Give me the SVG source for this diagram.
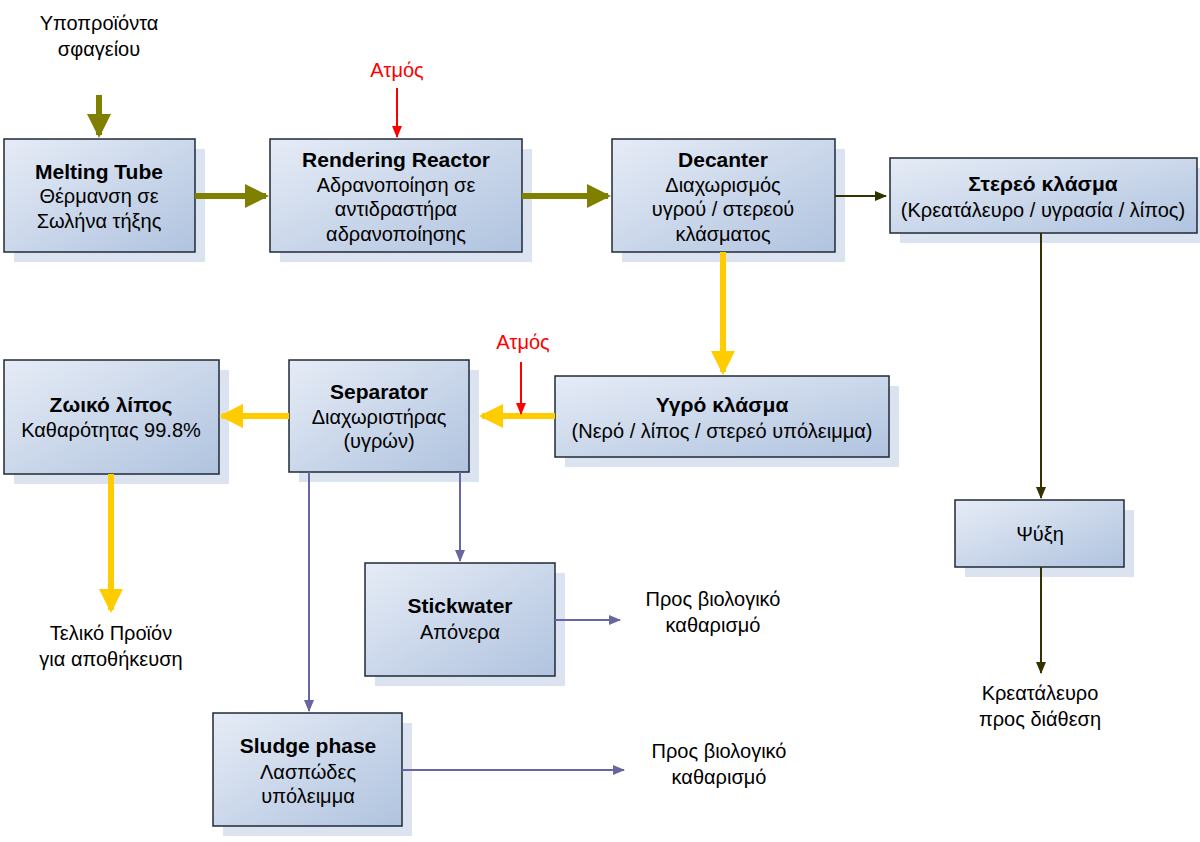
<svg xmlns="http://www.w3.org/2000/svg" width="1200" height="842" viewBox="0 0 1200 842">
<defs>
<linearGradient id="g" x1="0" y1="0" x2="1" y2="1"><stop offset="0" stop-color="#e6ecf6"/><stop offset="1" stop-color="#b0c3df"/></linearGradient>
<marker id="mo" markerWidth="4" markerHeight="4" refX="3.5" refY="2" orient="auto" markerUnits="strokeWidth"><path d="M0,0 L4,2 L0,4 z" fill="#808000"/></marker>
<marker id="my" markerWidth="4" markerHeight="4" refX="3.5" refY="2" orient="auto" markerUnits="strokeWidth"><path d="M0,0 L4,2 L0,4 z" fill="#ffcc00"/></marker>
<marker id="mr" markerWidth="12" markerHeight="10" refX="11" refY="5" orient="auto" markerUnits="userSpaceOnUse"><path d="M0,0 L12,5 L0,10 z" fill="#ff0000"/></marker>
<marker id="md" markerWidth="12" markerHeight="10" refX="11" refY="5" orient="auto" markerUnits="userSpaceOnUse"><path d="M0,0 L12,5 L0,10 z" fill="#333300"/></marker>
<marker id="ms" markerWidth="12" markerHeight="10" refX="11" refY="5" orient="auto" markerUnits="userSpaceOnUse"><path d="M0,0 L12,5 L0,10 z" fill="#6666a0"/></marker>
</defs>
<style>
.sh{fill:#dbe3f0}
.bx{fill:url(#g);stroke:#1f2a36;stroke-width:1.5}
text{font-family:"Liberation Sans",Arial,sans-serif;font-size:20px;fill:#000;text-anchor:middle}
.b{font-weight:bold;font-size:21px}
.r{fill:#ff0000}
.o{stroke:#808000;stroke-width:6;fill:none;marker-end:url(#mo)}
.y{stroke:#ffcc00;stroke-width:6;fill:none;marker-end:url(#my)}
.rd{stroke:#ff0000;stroke-width:2;fill:none;marker-end:url(#mr)}
.d{stroke:#333300;stroke-width:2;fill:none;marker-end:url(#md)}
.s{stroke:#6666a0;stroke-width:2;fill:none;marker-end:url(#ms)}
</style>
<text x="99" y="30">Υποπροϊόντα</text><text x="99" y="56">σφαγείου</text>
<text class="r" x="397" y="77">Ατμός</text>
<text class="r" x="523" y="349">Ατμός</text>
<g id="n1"><rect class="sh" x="14" y="149" width="191" height="113"/><rect class="bx" x="4" y="139" width="191" height="113"/><text class="b" x="99" y="179">Melting Tube</text><text x="99" y="203">Θέρμανση σε</text><text x="99" y="228">Σωλήνα τήξης</text></g>
<g id="n2"><rect class="sh" x="280" y="149" width="252" height="113"/><rect class="bx" x="270" y="139" width="252" height="113"/><text class="b" x="396" y="167">Rendering Reactor</text><text x="396" y="192">Αδρανοποίηση σε</text><text x="396" y="216">αντιδραστήρα</text><text x="396" y="241">αδρανοποίησης</text></g>
<g id="n3"><rect class="sh" x="622" y="149" width="223" height="113"/><rect class="bx" x="612" y="139" width="223" height="113"/><text class="b" x="723" y="167">Decanter</text><text x="723" y="192">Διαχωρισμός</text><text x="723" y="216">υγρού / στερεού</text><text x="723" y="241">κλάσματος</text></g>
<g id="n4"><rect class="sh" x="900" y="168" width="307" height="75"/><rect class="bx" x="890" y="158" width="307" height="75"/><text class="b" x="1043" y="191">Στερεό κλάσμα</text><text x="1043" y="217">(Κρεατάλευρο / υγρασία / λίπος)</text></g>
<g id="n5"><rect class="sh" x="565" y="386" width="334" height="81"/><rect class="bx" x="555" y="376" width="334" height="81"/><text class="b" x="722" y="412">Υγρό κλάσμα</text><text x="722" y="438">(Νερό / λίπος / στερεό υπόλειμμα)</text></g>
<g id="n6"><rect class="sh" x="299" y="370" width="180" height="112"/><rect class="bx" x="289" y="360" width="180" height="112"/><text class="b" x="379" y="399">Separator</text><text x="379" y="424">Διαχωριστήρας</text><text x="379" y="448">(υγρών)</text></g>
<g id="n7"><rect class="sh" x="14" y="370" width="215" height="114"/><rect class="bx" x="4" y="360" width="215" height="114"/><text class="b" x="111" y="412">Ζωικό λίπος</text><text x="111" y="437">Καθαρότητας 99.8%</text></g>
<g id="n8"><rect class="sh" x="965" y="510" width="169" height="67"/><rect class="bx" x="955" y="500" width="169" height="67"/><text x="1040" y="541">Ψύξη</text></g>
<g id="n9"><rect class="sh" x="375" y="573" width="190" height="113"/><rect class="bx" x="365" y="563" width="190" height="113"/><text class="b" x="460" y="613">Stickwater</text><text x="460" y="639">Απόνερα</text></g>
<g id="n10"><rect class="sh" x="223" y="723" width="189" height="113"/><rect class="bx" x="213" y="713" width="189" height="113"/><text class="b" x="308" y="753">Sludge phase</text><text x="308" y="779">Λασπώδες</text><text x="308" y="803">υπόλειμμα</text></g>
<text x="111" y="640">Τελικό Προϊόν</text><text x="111" y="666">για αποθήκευση</text>
<text x="713" y="606">Προς βιολογικό</text><text x="713" y="632">καθαρισμό</text>
<text x="719" y="758">Προς βιολογικό</text><text x="719" y="784">καθαρισμό</text>
<text x="1040" y="700">Κρεατάλευρο</text><text x="1040" y="726">προς διάθεση</text>
<g id="connectors">
<path class="o" d="M99,95 V135"/>
<path class="o" d="M195,196 H266"/>
<path class="o" d="M522,196 H608"/>
<path class="rd" d="M397,88 V137"/>
<path class="d" d="M835,196 H886"/>
<path class="y" d="M723,252 V372"/>
<path class="y" d="M555,416 H482"/>
<path class="rd" d="M521,362 V414"/>
<path class="y" d="M289,416 H222"/>
<path class="y" d="M111,474 V610"/>
<path class="d" d="M1041,233 V498"/>
<path class="d" d="M1041,567 V673"/>
<path class="s" d="M460,472 V561"/>
<path class="s" d="M309,472 V711"/>
<path class="s" d="M555,620 H620"/>
<path class="s" d="M402,770 H624"/>
</g>
</svg>
